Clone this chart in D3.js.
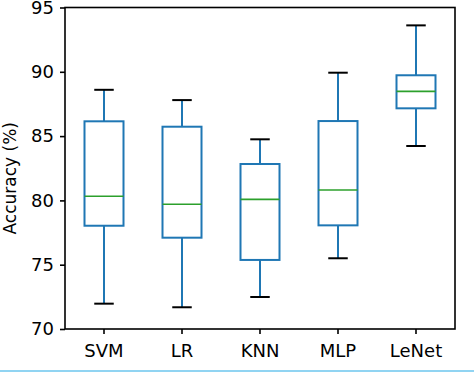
<!DOCTYPE html>
<html>
<head>
<meta charset="utf-8">
<script src="https://cdn.jsdelivr.net/npm/d3@7"></script>
<style>
    body { margin: 0; background: #fff; }
    svg { display: block; font-family: "DejaVu Sans", sans-serif; }
</style>
</head>
<body>
<div id="chart"></div>
<script>
// Data
const models = ["SVM", "LR", "KNN", "MLP", "LeNet"];
const whiskerLow = [71.97, 71.69, 72.49, 75.5, 84.23];
const q1 = [78.03, 77.1, 75.37, 78.06, 87.16];
const medians = [80.32, 79.7, 80.08, 80.81, 88.48];
const q3 = [86.15, 85.73, 82.83, 86.17, 89.73];
const whiskerHigh = [88.6, 87.8, 84.75, 89.93, 93.61];
const yTicks = [70, 75, 80, 85, 90, 95];

const W = 474, H = 375;
const margin = { top: 7.5, right: 19, bottom: 46, left: 65 };
const width = W - margin.left - margin.right;
const height = H - margin.top - margin.bottom;

const svg = d3.select("#chart")
    .append("svg")
    .attr("width", W)
    .attr("height", H);

const chart = svg.append("g")
    .attr("transform", `translate(${margin.left},${margin.top})`);

// Scales
const x = d3.scaleBand()
    .domain(models)
    .range([0, width])
    .padding(0);

const y = d3.scaleLinear()
    .domain([70, 95])
    .range([height, 0]);

const boxW = x.bandwidth() * 0.5;
const capW = x.bandwidth() * 0.25;

// Build rows
const data = models.map((m, i) => ({
    name: m, lo: whiskerLow[i], q1: q1[i], med: medians[i], q3: q3[i], hi: whiskerHigh[i]
}));

// Axes
const yAxis = chart.append("g")
    .call(d3.axisLeft(y).tickValues(yTicks).tickSize(5).tickPadding(6).tickSizeOuter(0));
const xAxis = chart.append("g")
    .attr("transform", `translate(0,${height})`)
    .call(d3.axisBottom(x).tickSize(5).tickPadding(10).tickSizeOuter(0));

[yAxis, xAxis].forEach(a => {
    a.select(".domain").remove();
    a.selectAll(".tick line").attr("stroke", "#000").attr("stroke-width", 1.6);
    a.selectAll(".tick text")
        .attr("fill", "#000")
        .style("font-size", "18px")
        .style("font-family", "DejaVu Sans, sans-serif");
});

// Frame
chart.append("rect")
    .attr("x", 0).attr("y", 0)
    .attr("width", width).attr("height", height)
    .attr("fill", "none")
    .attr("stroke", "#000")
    .attr("stroke-width", 1.6);

// Boxes
const boxes = chart.append("g")
    .selectAll("g")
    .data(data)
    .join("g")
    .attr("transform", d => `translate(${x(d.name) + x.bandwidth() / 2},0)`);

// whiskers
boxes.append("line")
    .attr("y1", d => y(d.hi)).attr("y2", d => y(d.q3))
    .attr("stroke", "#1f77b4").attr("stroke-width", 2);
boxes.append("line")
    .attr("y1", d => y(d.q1)).attr("y2", d => y(d.lo))
    .attr("stroke", "#1f77b4").attr("stroke-width", 2);

// caps
boxes.append("line")
    .attr("x1", -capW / 2).attr("x2", capW / 2)
    .attr("y1", d => y(d.hi)).attr("y2", d => y(d.hi))
    .attr("stroke", "#000").attr("stroke-width", 2);
boxes.append("line")
    .attr("x1", -capW / 2).attr("x2", capW / 2)
    .attr("y1", d => y(d.lo)).attr("y2", d => y(d.lo))
    .attr("stroke", "#000").attr("stroke-width", 2);

// box
boxes.append("rect")
    .attr("x", -boxW / 2)
    .attr("width", boxW)
    .attr("y", d => y(d.q3))
    .attr("height", d => y(d.q1) - y(d.q3))
    .attr("fill", "#fff")
    .attr("stroke", "#1f77b4")
    .attr("stroke-width", 2);

// median
boxes.append("line")
    .attr("x1", -boxW / 2).attr("x2", boxW / 2)
    .attr("y1", d => y(d.med)).attr("y2", d => y(d.med))
    .attr("stroke", "#2ca02c").attr("stroke-width", 1.6);

// Y label
svg.append("text")
    .attr("transform", `translate(16,${margin.top + height / 2 + 10}) rotate(-90)`)
    .attr("text-anchor", "middle")
    .style("font-size", "17px")
    .text("Accuracy (%)");

// Bottom rule
svg.append("line")
    .attr("x1", 0).attr("x2", W)
    .attr("y1", 371).attr("y2", 371)
    .attr("stroke", "#6cc6ee")
    .attr("stroke-width", 1.5);
</script>
</body>
</html>
